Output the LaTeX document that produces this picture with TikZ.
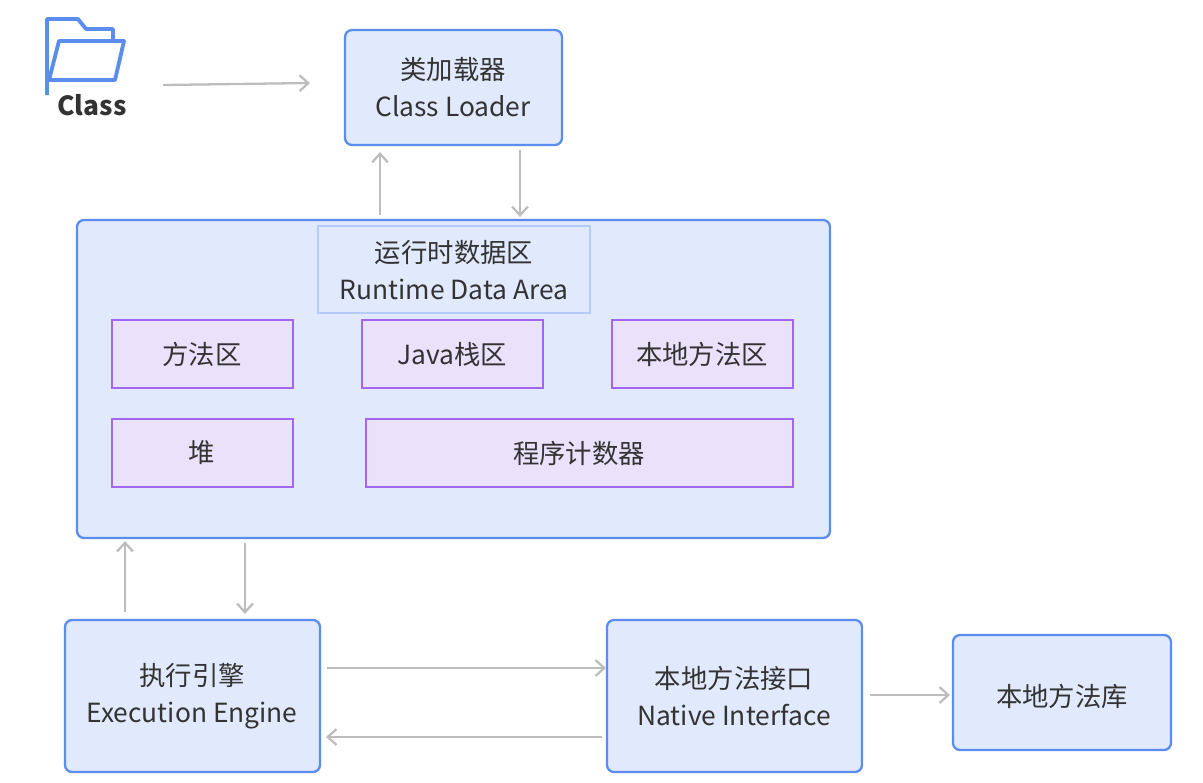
\documentclass[tikz,border=0pt]{standalone}
\usepackage{fontspec}
\setmainfont{Noto Sans CJK SC}
\usetikzlibrary{arrows.meta}
\definecolor{boxfill}{HTML}{E1E9FC}
\definecolor{boxline}{HTML}{5B8DEF}
\definecolor{subfill}{HTML}{EAE1FB}
\definecolor{subline}{HTML}{A267EE}
\definecolor{arrowgray}{HTML}{BDBDBD}
\definecolor{textdark}{HTML}{333333}
\tikzset{
  block/.style={draw=boxline, fill=boxfill, line width=1.3pt, rounded corners=4pt},
  area/.style={draw=subline, fill=subfill, line width=1.3pt},
  label/.style={text=textdark, font=\fontsize{15}{21}\selectfont, align=center},
  flow/.style={draw=arrowgray, line width=1.3pt, -{Straight Barb[length=5pt,width=9pt]}}
}
\begin{document}
\begin{tikzpicture}[x=0.02cm, y=-0.02cm]

\useasboundingbox (0,0) rectangle (1203,782);

% folder icon
\draw [boxline, line width=2.2pt, line join=round] (47,95) -- (47,19) -- (78,19) -- (86,29) -- (113,29) -- (113,41);
\draw [boxline, line width=2.2pt, line join=round] (59,41) -- (124,41) -- (115,80) -- (49,80) -- cycle;
\node (class) [text=textdark, font=\bfseries\fontsize{15}{18}\selectfont] at (92,105) {Class};
\coordinate (classout) at (163,85);

% loader
\draw [block] (345,30) rectangle (562,145);
\node (loader) [label] at (453,87) {类加载器\\Class Loader};

% runtime data area
\draw [block] (77,220) rectangle (830,538);
\draw [draw=boxline!45, line width=1.3pt] (318,226) rectangle (590,313);
\node (runtime) [label] at (454,270) {运行时数据区\\Runtime Data Area};

\draw [area] (112,320) rectangle (293,388);
\node (method) [label] at (202,354) {方法区};
\draw [area] (362,320) rectangle (543,388);
\node (stack) [label] at (452,354) {Java栈区};
\draw [area] (612,320) rectangle (793,388);
\node (nstack) [label] at (702,354) {本地方法区};
\draw [area] (112,419) rectangle (293,487);
\node (heap) [label] at (202,453) {堆};
\draw [area] (366,419) rectangle (793,487);
\node (pc) [label] at (579,453) {程序计数器};

% engine and native
\draw [block] (65,620) rectangle (320,772);
\node (engine) [label] at (192,696) {执行引擎\\Execution Engine};
\draw [block] (607,620) rectangle (862,772);
\node (native) [label] at (734,696) {本地方法接口\\Native Interface};
\draw [block] (953,635) rectangle (1171,750);
\node (lib) [label] at (1062,696) {本地方法库};

% connectors
\coordinate (a1) at (310,83);
\draw [flow] (classout) -- (a1);
\coordinate (u1) at (380,215); \coordinate (u2) at (380,152);
\draw [flow] (u1) -- (u2);
\coordinate (d1) at (520,150); \coordinate (d2) at (520,217);
\draw [flow] (d1) -- (d2);
\coordinate (u3) at (125,612); \coordinate (u4) at (125,541);
\draw [flow] (u3) -- (u4);
\coordinate (d3) at (245,543); \coordinate (d4) at (245,614);
\draw [flow] (d3) -- (d4);
\coordinate (r1) at (327,668); \coordinate (r2) at (606,668);
\draw [flow] (r1) -- (r2);
\coordinate (l1) at (602,737); \coordinate (l2) at (326,737);
\draw [flow] (l1) -- (l2);
\coordinate (n1) at (870,695); \coordinate (n2) at (950,695);
\draw [flow] (n1) -- (n2);

\end{tikzpicture}
\end{document}
